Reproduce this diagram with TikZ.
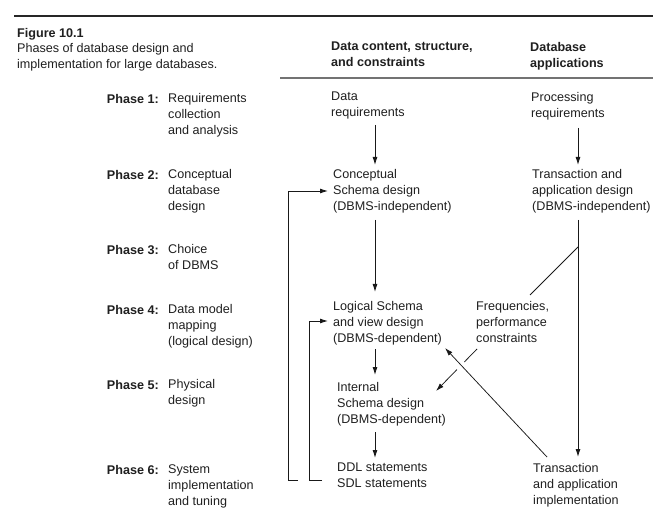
\documentclass[tikz,border=0pt]{standalone}
\usepackage{fontspec}
\setmainfont{Liberation Sans}
\usetikzlibrary{arrows.meta,calc}
\begin{document}
\begin{tikzpicture}[x=1pt,y=-1pt,
  txt/.style={anchor=north west,inner sep=0pt,align=left,
    font=\fontsize{12.6}{16}\selectfont,text=black!88,
    execute at begin node=\rule{0pt}{10pt}},
  btxt/.style={txt,font=\fontsize{12.6}{16}\selectfont\bfseries},
  phlab/.style={btxt,anchor=north east},
  conn/.style={line width=0.9pt,black!90},
  arr/.style={conn,-{Latex[length=8pt,width=5pt]}},
  diag/.style={line width=0.75pt,black!90},
  darr/.style={diag,-{Latex[length=8pt,width=5pt]}},
  rule/.style={line width=1.1pt}]
\useasboundingbox (0,0) rectangle (653,529);

% rules
\coordinate (t1) at (14,16);
\coordinate (t2) at (653,16);
\draw[rule,black!85] (t1) -- (t2);
\coordinate (h1) at (280,78);
\coordinate (h2) at (653,78);
\draw[rule,black!55] (h1) -- (h2);

% caption
\node[btxt] (fig) at (17,27) {Figure 10.1};
\node[txt] (cap) at (17,43) {Phases of database design and\\implementation for large databases.};

% headers
\node[btxt] (hdrL) at (331,42) {Data content, structure,\\and constraints};
\node[btxt] (hdrR) at (530,42) {Database\\applications};

% phases
\node[phlab] (p1l) at (159,93) {Phase 1:};
\node[txt] (p1) at (168,93) {Requirements\\collection\\and analysis};
\node[phlab] (p2l) at (159,169) {Phase 2:};
\node[txt] (p2) at (168,169) {Conceptual\\database\\design};
\node[phlab] (p3l) at (159,244) {Phase 3:};
\node[txt] (p3) at (168,244) {Choice\\of DBMS};
\node[phlab] (p4l) at (159,304) {Phase 4:};
\node[txt] (p4) at (168,304) {Data model\\mapping\\(logical design)};
\node[phlab] (p5l) at (159,379) {Phase 5:};
\node[txt] (p5) at (168,379) {Physical\\design};
\node[phlab] (p6l) at (159,464) {Phase 6:};
\node[txt] (p6) at (168,464) {System\\implementation\\and tuning};

% left column
\node[txt] (dr) at (331,92) {Data\\requirements};
\node[txt] (cs) at (333,169) {Conceptual\\Schema design\\(DBMS-independent)};
\node[txt] (ls) at (333,301) {Logical Schema\\and view design\\(DBMS-dependent)};
\node[txt] (is) at (337,382) {Internal\\Schema design\\(DBMS-dependent)};
\node[txt] (ddl) at (337,463) {DDL statements\\SDL statements};

% right column
\node[txt] (pr) at (531,92) {Processing\\requirements};
\node[txt] (td) at (532,169) {Transaction and\\application design\\(DBMS-independent)};
\node[txt] (freq) at (476,301) {Frequencies,\\performance\\constraints};
\node[txt] (ti) at (533,463) {Transaction\\and application\\implementation};

\coordinate (colL) at (375,0);
\coordinate (colR) at (578,0);

% vertical arrows
\draw[arr] ($(dr.north -| colL)+(0,33)$) -- ($(cs.north -| colL)+(0,-4)$);
\draw[arr] ($(pr.north -| colR)+(0,36)$) -- ($(td.north -| colR)+(0,-4)$);
\draw[arr] ($(cs.north -| colL)+(0,51)$) -- ($(ls.north -| colL)+(0,-9)$);
\draw[arr] ($(ls.north -| colL)+(0,48)$) -- ($(is.north -| colL)+(0,-7)$);
\draw[arr] ($(is.north -| colL)+(0,50)$) -- ($(ddl.north -| colL)+(0,-5)$);
\draw[arr] ($(td.north -| colR)+(0,51)$) -- ($(ti.north -| colR)+(0,-6)$);

% branch to frequencies
\coordinate (br) at ($(td.north -| colR)+(0,78)$);
\draw[diag] (br) -- ($(freq.north west)+(54,-6)$);

% frequencies -> internal (broken at crossing)
\coordinate (fa) at ($(freq.north west)+(1,48)$);
\coordinate (fb) at ($(is.north west)+(99,9)$);
\draw[diag] (fa) -- ($(fa)!0.31!(fb)$);
\draw[darr] ($(fa)!0.49!(fb)$) -- (fb);

% implementation -> logical
\draw[darr] ($(ti.north west)+(14,-6)$) -- ($(ls.north west)+(112,47)$);

% feedback loops
\draw[arr] ($(ddl.north west)+(-39,17)$) -- ++(-10,0) |- ($(cs.north west)+(-5,22)$);
\draw[arr] ($(ddl.north west)+(-15,17)$) -- ++(-13,0) |- ($(ls.north west)+(-5,20)$);
\end{tikzpicture}
\end{document}
